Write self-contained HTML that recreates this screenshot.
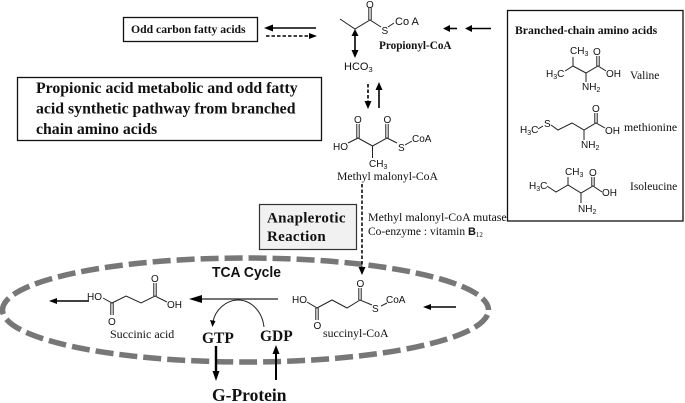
<!DOCTYPE html>
<html><head><meta charset="utf-8"><style>
html,body{margin:0;padding:0;background:#fff}
svg{display:block}
text{font-family:"Liberation Serif",serif;fill:#111}
.a{font-family:"Liberation Sans",sans-serif;font-size:10px}
.b{font-weight:bold}
.s{font-size:7px}
.l{stroke:#222;stroke-width:1;fill:none}
.w{stroke:#000;stroke-width:1.6;fill:none}
.d{stroke:#000;stroke-width:1.6;fill:none;stroke-dasharray:3.5 2}
</style></head><body>
<svg width="685" height="403" viewBox="0 0 685 403" xmlns="http://www.w3.org/2000/svg">
<ellipse cx="245.500" cy="310" rx="243" ry="52" fill="none" stroke="#777" stroke-width="5.500" stroke-dasharray="18 6" stroke-dashoffset="19"/>

<rect x="123.500" y="17.500" width="134" height="24" fill="#fff" stroke="#111" stroke-width="1.300"/>
<text x="131" y="33" font-size="11.700" class="b">Odd carbon fatty acids</text>
<path class="w" d="M316 28H270"/><path d="M264 28l9-3.500v7z"/>
<path class="d" d="M266 36H310"/><path d="M317 36l-8-3v6z"/>

<rect x="17.500" y="77.500" width="304" height="63" fill="#fff" stroke="#111" stroke-width="1.300"/>
<text x="36" y="93" font-size="15.800" class="b">Propionic acid metabolic and odd fatty</text>
<text x="36" y="113.500" font-size="15.800" class="b">acid synthetic pathway from branched</text>
<text x="36" y="134" font-size="15.800" class="b">chain amino acids</text>

<path class="l" d="M340 19L355 29L370 20L381 27M368.800 8V20M371.200 8V20M388 27L394 23"/>
<text x="366" y="8" class="a">O</text><text x="381.500" y="34" class="a">S</text>
<text x="395" y="25" style="font-family:'Liberation Sans',sans-serif;font-size:11px">Co A</text>
<text x="379" y="49" font-size="11.200" class="b">Propionyl-CoA</text>
<path class="w" d="M470 28.500H491"/><path d="M465 28.500l7-3.500v7z"/>
<path class="w" d="M448 28.500H457"/><path d="M443 28.500l7-3.500v7z"/>
<path class="w" d="M355 35V52"/><path d="M355 29l-3.500 7h7zM355 58l-3.500-8h7z"/>
<text x="344" y="70" style="font-family:'Liberation Sans',sans-serif;font-size:11px">HCO<tspan dy="2" font-size="7.500">3</tspan></text>

<path class="d" d="M368 84V103"/><path d="M368 109l-3.500-8h7z"/>
<path class="w" d="M379 108V88"/><path d="M379 82l-3.500 8h7z"/>

<text x="333" y="150" class="a">HO</text>
<path class="l" d="M348 143L358 138L372.500 146L387 138L397 143M356.800 124V138M359.200 124V138M385.800 124V138M388.200 124V138M372.500 146V158M405 145L412 141"/>
<text x="354" y="123" class="a">O</text><text x="383.500" y="123" class="a">O</text>
<text x="398" y="151" class="a">S</text><text x="412" y="142" class="a">CoA</text>
<text x="369" y="167" class="a">CH<tspan dy="2" class="s">3</tspan></text>
<text x="337" y="180" font-size="11.700">Methyl malonyl-CoA</text>

<path class="d" d="M362 184V270" style="stroke-width:1.500"/>
<path d="M362 275l-3.500-8h7z"/>

<rect x="259.500" y="204.500" width="97" height="45" fill="#f1f1f1" stroke="#333" stroke-width="1.200"/>
<text x="267" y="222.500" font-size="15" class="b" letter-spacing=".3">Anaplerotic</text>
<text x="267" y="241" font-size="15" class="b" letter-spacing=".3">Reaction</text>
<text x="368" y="221" font-size="11.900">Methyl malonyl-CoA mutase</text>
<text x="368" y="235" font-size="11.500">Co-enzyme : vitamin <tspan style="font-family:'Liberation Sans',sans-serif;font-size:11px;font-weight:bold">B</tspan><tspan dy="2" font-size="7">12</tspan></text>

<rect x="507.500" y="10.500" width="175.500" height="210.500" fill="none" stroke="#111" stroke-width="1.300"/>
<text x="515" y="34" font-size="11.700" class="b">Branched-chain amino acids</text>

<text x="570" y="54" class="a">CH<tspan dy="2" class="s">3</tspan></text>
<text x="546" y="77" class="a">H<tspan dy="2" class="s">3</tspan><tspan dy="-2">C</tspan></text>
<text x="593" y="55" class="a">O</text>
<text x="606" y="77" class="a">OH</text>
<text x="582" y="90" class="a">NH<tspan dy="2" class="s">2</tspan></text>
<path class="l" d="M565 71L573 66L586 73L598 66L606 71M573 66V57M596.800 56V66M599.200 56V66M586 73V82"/>
<text x="630" y="79" font-size="11.500">Valine</text>

<text x="520" y="133" class="a">H<tspan dy="2" class="s">3</tspan><tspan dy="-2">C</tspan></text>
<text x="544" y="127" class="a">S</text>
<text x="592" y="112" class="a">O</text>
<text x="605" y="134" class="a">OH</text>
<text x="581" y="148" class="a">NH<tspan dy="2" class="s">2</tspan></text>
<path class="l" d="M538 129L543 126M551 125L558 130L572 123L584 130L596 123L605 128M594.800 113V123M597.200 113V123M584 130V140"/>
<text x="624" y="131" font-size="11.800">methionine</text>

<text x="529" y="189" class="a">H<tspan dy="2" class="s">3</tspan><tspan dy="-2">C</tspan></text>
<text x="565" y="175" class="a">CH<tspan dy="2" class="s">3</tspan></text>
<text x="589" y="176" class="a">O</text>
<text x="602" y="196" class="a">OH</text>
<text x="578" y="212" class="a">NH<tspan dy="2" class="s">2</tspan></text>
<path class="l" d="M547 186L556 192L568 185L581 193L593 186L602 192M568 185V177M591.800 177V186M594.200 177V186M581 193V203"/>
<text x="630" y="190" font-size="11.500">Isoleucine</text>

<text x="212" y="277" textLength="69" lengthAdjust="spacingAndGlyphs" style="font-family:'Liberation Sans',sans-serif;font-size:15px;font-weight:bold">TCA Cycle</text>

<text x="87" y="300" class="a">HO</text>
<path class="l" d="M103 298L112 303L126 296L141 303L155 296L167 302M110.800 303V315M113.200 303V315M153.800 283V296M156.200 283V296"/>
<text x="108" y="325" class="a">O</text><text x="151" y="282" class="a">O</text><text x="167" y="308" class="a">OH</text>
<text x="110" y="338" font-size="12">Succinic acid</text>
<path class="w" d="M89 301H56"/><path d="M49 301l8-3v6z"/>

<path d="M278 299H198" stroke="#222" stroke-width="1.200" fill="none"/><path d="M189 299l13-4v8z"/>
<path class="l" d="M264 327C262 310 250 300 238 300C226 300 215 310 213 322"/><path d="M212.500 327l-2.500-7 5.500 1z"/>
<text x="202" y="343" font-size="15.500" class="b">GTP</text>
<text x="260" y="341" font-size="15.500" class="b">GDP</text>
<path d="M216 346V376" stroke="#000" stroke-width="2.400"/><path d="M216 381l-3.500-10h7z"/>
<path d="M276 380V352" stroke="#000" stroke-width="2"/><path d="M276 345l-3.500 9h7z"/>
<text x="212" y="401" font-size="17.500" class="b">G-Protein</text>

<text x="292" y="303" class="a">HO</text>
<path class="l" d="M307 302L317 308L332 300L347 308L360 300L372 305M315.800 308V320M318.200 308V320M358.800 288V300M361.200 288V300M381 306L387 303"/>
<text x="313.500" y="329" class="a">O</text><text x="356.500" y="287" class="a">O</text>
<text x="372" y="312" class="a">S</text><text x="386" y="303" class="a">CoA</text>
<text x="323" y="337" font-size="11.800">succinyl-CoA</text>
<path class="w" d="M456 307H430"/><path d="M423 307l8-3v6z"/>
</svg>
</body></html>
